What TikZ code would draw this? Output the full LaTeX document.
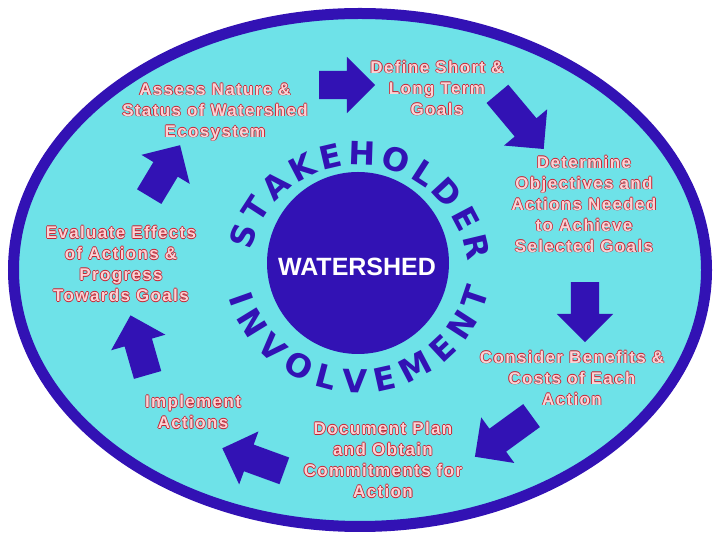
\documentclass[tikz,border=0pt]{standalone}
\usepackage{fontspec}
\setmainfont{Liberation Sans}
\newfontfamily\arcfamily{DejaVu Sans}
\usepackage{xcolor}
\usepackage{tikz}
\usetikzlibrary{shapes.arrows}
\usetikzlibrary{decorations.text}
\definecolor{shedblue}{RGB}{50,18,180}
\definecolor{shedcyan}{RGB}{110,226,232}
\definecolor{stepred}{RGB}{200,35,50}
\definecolor{stepfill}{RGB}{250,212,214}
\newcommand{\outl}[1]{\leavevmode\rlap{\kern-.8pt\textcolor{stepred}{#1}}\rlap{\kern.8pt\textcolor{stepred}{#1}}%
    \rlap{\raisebox{.8pt}{\textcolor{stepred}{#1}}}\rlap{\raisebox{-.8pt}{\textcolor{stepred}{#1}}}\textcolor{stepfill}{#1}}
\def\arcfont{\arcfamily\fontsize{32}{32}\bfseries\color{shedblue}}

\begin{document}
\begin{tikzpicture}[x=1pt,y=1pt,
        steplabel/.style={align=center,font=\fontsize{17}{21}\bfseries\addfontfeatures{LetterSpace=8}},
        blockarr/.style={single arrow,fill=shedblue,inner sep=0pt,inner ysep=14pt,single arrow head extend=14pt}]
    \useasboundingbox (0,0) rectangle (720,540);
    \draw[line width=11pt,draw=shedblue,fill=shedcyan] (360,270) ellipse (346.5 and 256.5);
    \fill[shedblue] (358,277) circle (91);
    \node[font=\fontsize{25}{25}\bfseries,text=white] (ws) at (357,273) {WATERSHED};
    \path[decorate,decoration={text along path,text align=fit to path,text={|\arcfont|STAKEHOLDER}}]
        (358,265) ++(167:110) arc[start angle=167,end angle=7,radius=110];
    \path[decorate,decoration={text along path,text align=fit to path,text={|\arcfont|INVOLVEMENT}}]
        (358,282) ++(197:135) arc[start angle=197,end angle=346,radius=135];
    % steps
    \node[steplabel] (s1) at (215,428) {\outl{Assess Nature \&}\\\outl{Status of Watershed}\\\outl{Ecosystem}};
    \node[steplabel] (s2) at (437,452) {\outl{Define Short \&}\\\outl{Long Term}\\\outl{Goals}};
    \node[steplabel] (s3) at (584,336) {\outl{Determine}\\\outl{Objectives and}\\\outl{Actions Needed}\\\outl{to Achieve}\\\outl{Selected Goals}};
    \node[steplabel] (s4) at (572,162) {\outl{Consider Benefits \&}\\\outl{Costs of Each}\\\outl{Action}};
    \node[steplabel] (s5) at (383,80) {\outl{Document Plan}\\\outl{and Obtain}\\\outl{Commitments for}\\\outl{Action}};
    \node[steplabel] (s6) at (193,128) {\outl{Implement}\\\outl{Actions}};
    \node[steplabel] (s7) at (121,276) {\outl{Evaluate Effects}\\\outl{of Actions \&}\\\outl{Progress}\\\outl{Towards Goals}};
    % arrows round the cycle
    \node[blockarr,minimum height=56] (a1) at (340,455) {};
    \node[blockarr,minimum height=72,rotate=-50] (a2) at (516,424) {};
    \node[blockarr,minimum height=60,rotate=-90] (a3) at (585,235) {};
    \node[blockarr,minimum height=70,rotate=216] (a4) at (509,108) {};
    \node[blockarr,minimum height=66,rotate=160] (a5) at (260,78) {};
    \node[blockarr,minimum height=62,rotate=106] (a6) at (141,188) {};
    \node[blockarr,minimum height=60,rotate=59] (a7) at (161,363) {};
\end{tikzpicture}
\end{document}
